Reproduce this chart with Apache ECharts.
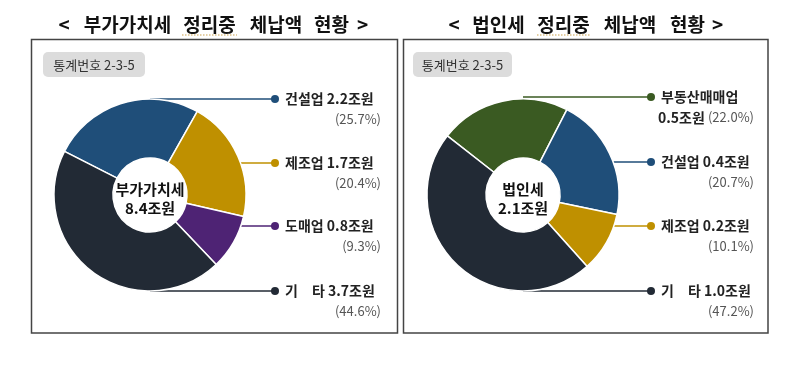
<!DOCTYPE html>
<html><head><meta charset="utf-8">
<script src="https://cdn.jsdelivr.net/npm/echarts@6/dist/echarts.min.js"></script>
<style>html,body{margin:0;padding:0;background:#fff}#c{width:800px;height:370px}</style>
</head><body><div id="c"></div>
<script>
// ---------- data ----------
const vatCategories = ['건설업', '제조업', '도매업', '기\u3000타'];
const vatAmounts = ['2.2', '1.7', '0.8', '3.7'];
const vatPercents = [25.7, 20.4, 9.3, 44.6];
const vatName = '부가가치세';
const vatTotal = '8.4';

const corpCategories = ['부동산매매업', '건설업', '제조업', '기\u3000타'];
const corpAmounts = ['0.5', '0.4', '0.2', '1.0'];
const corpPercents = [22.0, 20.7, 10.1, 47.2];
const corpName = '법인세';
const corpTotal = '2.1';

const unit = '조원';
const statNo = '통계번호 2-3-5';
const leftTitleWords = ['<', '부가가치세', '정리중', '체납액', '현황', '>'];
const rightTitleWords = ['<', '법인세', '정리중', '체납액', '현황', '>'];

// ---------- layout / style ----------
const FONT = "'Noto Sans CJK KR', 'Noto Sans', sans-serif";
const C = { blue: '#1F4E79', gold: '#BF9000', purple: '#4E2374', dark: '#222A35', green: '#3A5A22' };

const panels = [
  {
    cats: vatCategories, amts: vatAmounts, pcts: vatPercents, name: vatName, total: vatTotal,
    colors: [C.blue, C.gold, C.purple, C.dark],
    cx: 150, cy: 195, r0: 37, r: 96, start: 153,
    dotX: 275, labelRight: 381, lineYs: [99, 163, 226, 291], twoLine: [],
    box: [31.5, 39.5, 366, 293.5], badge: [43, 52, 102, 25],
    titleWords: leftTitleWords, titleX: [64, 127.5, 209.5, 276, 331.5, 362.5], underline: [182, 237]
  },
  {
    cats: corpCategories, amts: corpAmounts, pcts: corpPercents, name: corpName, total: corpTotal,
    colors: [C.green, C.blue, C.gold, C.dark],
    cx: 523, cy: 195, r0: 37, r: 96, start: 142,
    dotX: 651, labelRight: 754, lineYs: [97, 162, 226, 291], twoLine: [0],
    box: [403.5, 39.5, 364.5, 293.5], badge: [413, 52, 99, 25],
    titleWords: rightTitleWords, titleX: [454, 498.5, 563.5, 630, 687.5, 717.5], underline: [537, 590]
  }
];

function makeSeries(p) {
  const rich = {
    n: { fontFamily: FONT, fontSize: 14, fontWeight: 'bold', color: '#222', lineHeight: 20, padding: [0, 0, 0, 6] },
    pb: { fontFamily: FONT, fontSize: 14, fontWeight: 'bold', color: '#222', lineHeight: 21, align: 'right' },
    p: { fontFamily: FONT, fontSize: 13, color: '#555', lineHeight: 21, align: 'right' }
  };
  p.colors.forEach((c, i) => {
    rich['d' + i] = { width: 8, height: 8, borderRadius: 4, backgroundColor: c, verticalAlign: 'middle', lineHeight: 20 };
  });
  const data = p.cats.map((name, i) => ({
    name: name,
    value: p.pcts[i],
    itemStyle: { color: p.colors[i] },
    labelLine: { lineStyle: { color: p.colors[i] } }
  }));
  return {
    type: 'pie',
    center: [p.cx, p.cy],
    radius: [p.r0, p.r],
    startAngle: p.start,
    clockwise: true,
    avoidLabelOverlap: false,
    animation: false,
    silent: true,
    itemStyle: { borderColor: '#fff', borderWidth: 1.5 },
    label: {
      show: true,
      position: 'outer',
      width: p.labelRight - (p.dotX - 4),
      overflow: 'none',
      rich: rich,
      formatter: function (prm) {
        const i = prm.dataIndex;
        const pct = '(' + p.pcts[i].toFixed(1) + '%)';
        if (p.twoLine.indexOf(i) >= 0) {
          return '{d' + i + '| }{n|' + p.cats[i] + '}\n{pb|' + p.amts[i] + unit + ' }{p|' + pct + '}';
        }
        return '{d' + i + '| }{n|' + p.cats[i] + ' ' + p.amts[i] + unit + '}\n{p|' + pct + '}';
      }
    },
    labelLine: { show: true, smooth: false, lineStyle: { width: 1.5 } },
    labelLayout: function (prm) {
      const i = prm.dataIndex;
      const ly = p.lineYs[i];
      const dy = ly - p.cy;
      const x0 = p.cx + Math.sqrt(Math.max(0, p.r * p.r - dy * dy));
      return {
        x: p.dotX - 4, y: ly - 10, align: 'left', verticalAlign: 'top',
        labelLinePoints: [[x0, ly], [p.dotX, ly]]
      };
    },
    data: data
  };
}

function textEl(text, x, y, font, fill, align) {
  return {
    type: 'text', x: x, y: y, silent: true,
    style: { text: text, font: font, fill: fill, textAlign: align || 'center', textVerticalAlign: 'middle', align: align || 'center', verticalAlign: 'middle' }
  };
}

const graphics = [];
panels.forEach(p => {
  graphics.push({ type: 'rect', shape: { x: p.box[0], y: p.box[1], width: p.box[2], height: p.box[3] },
    style: { fill: 'none', stroke: '#444', lineWidth: 1.5 }, silent: true, z: 1 });
  graphics.push({ type: 'rect', shape: { x: p.badge[0], y: p.badge[1], width: p.badge[2], height: p.badge[3], r: 5 },
    style: { fill: '#dcdcdc' }, silent: true });
  graphics.push(textEl(statNo, p.badge[0] + p.badge[2] / 2, p.badge[1] + p.badge[3] / 2 + 0.5, '13px ' + FONT, '#333'));
  p.titleWords.forEach((w, i) => {
    graphics.push(textEl(w, p.titleX[i], 25, 'bold 19px ' + FONT, '#111'));
  });
  graphics.push({ type: 'line', shape: { x1: p.underline[0], y1: 35, x2: p.underline[1], y2: 35 },
    style: { stroke: '#C9A04A', lineWidth: 1.2, lineDash: [1.5, 1.5] }, silent: true });
  graphics.push(textEl(p.name, p.cx, p.cy - 6, 'bold 15px ' + FONT, '#111'));
  graphics.push(textEl(p.total + unit, p.cx, p.cy + 13, 'bold 15px ' + FONT, '#111'));
});

const chart = echarts.init(document.getElementById('c'), null, { renderer: 'canvas' });
chart.setOption({
  backgroundColor: '#fff',
  animation: false,
  series: panels.map(makeSeries),
  graphic: { elements: graphics }
});
</script>
</body></html>
